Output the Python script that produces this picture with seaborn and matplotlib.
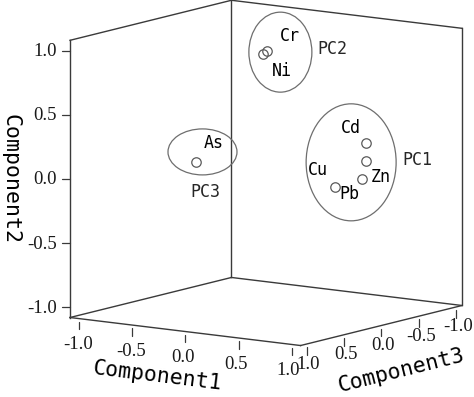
import numpy as np
import pandas as pd
import matplotlib
matplotlib.use("Agg")
import matplotlib.pyplot as plt
import seaborn as sns
from matplotlib.patches import Ellipse
from matplotlib.transforms import IdentityTransform
from mpl_toolkits.mplot3d import proj3d

# ---------------- data ----------------
elements = ["Cd", "Zn", "Pb", "Cu", "Cr", "Ni", "As"]
component1 = [0.90, 0.90, 0.90, 0.75, 0.04, 0.03, 0.00]
component2 = [0.32, 0.18, 0.04, -0.01, 0.96, 0.94, 0.22]
component3 = [-0.05, -0.05, 0.00, 0.15, 0.05, 0.08, 0.93]
groups = ["PC1", "PC1", "PC1", "PC1", "PC2", "PC2", "PC3"]
tick_values = [-1.0, -0.5, 0.0, 0.5, 1.0]
tick_labels = ["-1.0", "-0.5", "0.0", "0.5", "1.0"]
axis_titles = ["Component1", "Component2", "Component3"]

df = pd.DataFrame({"element": elements, "c1": component1, "c2": component2,
                   "c3": component3, "group": groups})

# ---------------- style ----------------
sns.set_theme(style="white")
plt.rcParams["font.family"] = ["DejaVu Sans Mono", "DejaVu Sans"]
SERIF = ["Liberation Serif", "DejaVu Serif"]
EDGE = "#3a3a3a"

W, H = 474, 397
fig = plt.figure(figsize=(W / 100, H / 100), dpi=100)
fig.patch.set_facecolor("white")
ax = fig.add_axes([(W / 2 - 150) / W, (H / 2 - 150) / H, 300 / W, 300 / H],
                  projection="3d")
ax.set_proj_type("ortho")
AZ, EL = 35, 10
ax.view_init(elev=EL, azim=AZ)
LIM = 1.08
ax.set_xlim(-LIM, LIM)
ax.set_ylim(-LIM, LIM)
ax.set_zlim(-LIM, LIM)
ax.set_box_aspect((1, 1, 1))
ax.set_axis_off()


def px(c1, c2, c3):
    x2, y2, _ = proj3d.proj_transform(np.atleast_1d(c3), np.atleast_1d(c1),
                                      np.atleast_1d(c2), ax.get_proj())
    return ax.transData.transform((float(x2[0]), float(y2[0])))


# fit the cube into the same place as the reference picture
target_L = np.array([70.0, H - 317.0])
target_R = np.array([462.0, H - 306.0])
for _ in range(3):
    fig.canvas.draw()
    Lp = px(-LIM, -LIM, LIM)
    Rp = px(LIM, -LIM, -LIM)
    k = (target_R[0] - target_L[0]) / (Rp[0] - Lp[0])
    pos = ax.get_position()
    cx = (pos.x0 + pos.x1) / 2 * W
    cy = (pos.y0 + pos.y1) / 2 * H
    side = pos.width * W
    M = (Lp + Rp) / 2
    T = (target_L + target_R) / 2
    ncx = T[0] - k * (M[0] - cx)
    ncy = T[1] - k * (M[1] - cy)
    ns = side * k
    ax.set_position([(ncx - ns / 2) / W, (ncy - ns / 2) / H, ns / W, ns / H])
fig.canvas.draw()


def seg(p, q, **kw):
    # p, q given as (c1, c2, c3); mpl axes: x=c3, y=c1, z=c2
    ax.plot([p[2], q[2]], [p[0], q[0]], [p[1], q[1]], **kw)


def label(c1, c2, c3, s, dx=0, dy=0, **kw):
    ax.annotate(s, xy=px(c1, c2, c3), xycoords="figure pixels",
                xytext=(dx, dy), textcoords="offset pixels", **kw)


edge_kw = dict(color=EDGE, lw=1.0, solid_capstyle="projecting")
L = LIM
# floor
seg((-L, -L, L), (L, -L, L), **edge_kw)
seg((L, -L, L), (L, -L, -L), **edge_kw)
seg((-L, -L, L), (-L, -L, -L), **edge_kw)
seg((-L, -L, -L), (L, -L, -L), **edge_kw)
# verticals
seg((-L, -L, L), (-L, L, L), **edge_kw)
seg((-L, -L, -L), (-L, L, -L), **edge_kw)
seg((L, -L, -L), (L, L, -L), **edge_kw)
# top of back walls
seg((-L, L, L), (-L, L, -L), **edge_kw)
seg((-L, L, -L), (L, L, -L), **edge_kw)

# ---------------- ticks ----------------
tick_kw = dict(color=EDGE, lw=0.9)
az = np.radians(AZ)
left_c3, left_c1 = np.sin(az), -np.cos(az)   # screen-left direction
tfont = dict(fontsize=13.5, family=SERIF, color="#1a1a1a")
for t, lab in zip(tick_values, tick_labels):
    # Component1 (front-left floor edge)
    seg((t, -L - 0.025, L), (t, -L - 0.085, L), **tick_kw)
    label(t, -L, L, lab, dx=-2 * (t + 1), dy=-26, ha="center", va="center",
          **tfont)
    # Component3 (front-right floor edge)
    seg((L, -L - 0.025, t), (L, -L - 0.085, t), **tick_kw)
    label(L, -L, t, lab, dx=2, dy=-20, ha="center", va="center", **tfont)
    # Component2 (left vertical edge)
    seg((-L, t, L), (-L + 0.06 * left_c1, t, L + 0.06 * left_c3), **tick_kw)
    label(-L, t, L, lab, dx=-13, dy=-1, ha="right", va="center", **tfont)

# axis titles
tt = dict(fontsize=15.5, color="black", ha="center", va="center",
          rotation_mode="anchor")
label(-0.26, -L, L, axis_titles[0], dy=-48, rotation=-7, **tt)
label(L, -L, -0.27, axis_titles[2], dy=-50, rotation=14, **tt)
label(-L, 0.0, L, axis_titles[1], dx=-59, dy=0, rotation=270, **tt)

# ---------------- points ----------------
ax.plot(df["c3"], df["c1"], df["c2"], ls="none", marker="o", ms=6.8,
        mfc="none", mec="#5a5a5a", mew=0.9)

label_offsets = {"As": (17, 19), "Cr": (23, 15), "Ni": (19, -17),
                 "Cd": (-15, 15), "Cu": (-17, 17), "Pb": (-13, -15),
                 "Zn": (15, -16)}
pts = {}
for _, r in df.iterrows():
    pts[r["element"]] = px(r["c1"], r["c2"], r["c3"])
    dx, dy = label_offsets[r["element"]]
    label(r["c1"], r["c2"], r["c3"], r["element"], dx=dx, dy=dy,
          ha="center", va="center", fontsize=12, color="black")

# ---------------- group ellipses ----------------
group_style = {
    "PC1": dict(off=(-6, 5), w=90, h=117, lab=(51, 2), ha="left"),
    "PC2": dict(off=(15.5, 0.5), w=63, h=80, lab=(36.5, 3.5), ha="left"),
    "PC3": dict(off=(6, 10), w=69, h=46, lab=(2.5, -40.5), ha="center"),
}
for g, sub in df.groupby("group"):
    cen = np.mean([pts[e] for e in sub["element"]], axis=0)
    st = group_style[g]
    ex, ey = cen[0] + st["off"][0], cen[1] + st["off"][1]
    fig.add_artist(Ellipse((ex, ey), st["w"], st["h"], fill=False,
                           ec="#6e6e6e", lw=0.9, transform=IdentityTransform()))
    fig.text(ex + st["lab"][0], ey + st["lab"][1], g, ha=st["ha"], va="center",
             fontsize=12, transform=IdentityTransform())

fig.savefig("out.png", dpi=100, facecolor="white")
